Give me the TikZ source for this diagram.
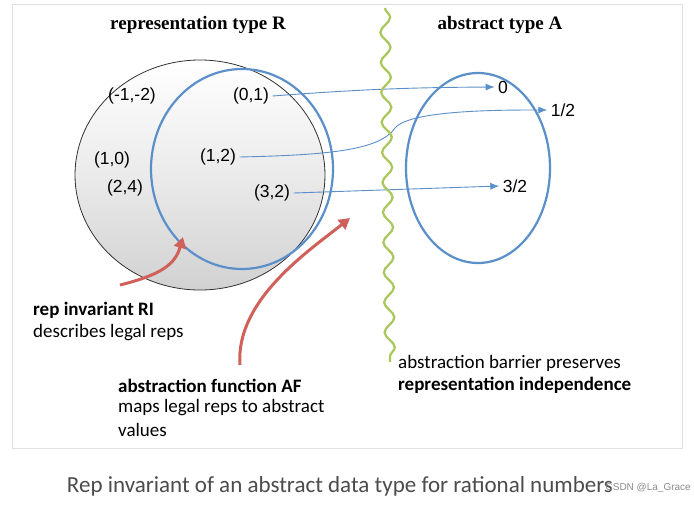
\documentclass[tikz,border=0pt]{standalone}
\usepackage{fontspec}
\setmainfont{Carlito}
\newfontfamily\arial{Liberation Sans}
\newfontfamily\tserif{Liberation Serif}
\usetikzlibrary{arrows.meta,decorations.pathmorphing}
\definecolor{cblue}{HTML}{5B8FC9}
\definecolor{cred}{HTML}{D0605A}
\definecolor{cgreen}{HTML}{A9C75A}
\begin{document}
\begin{tikzpicture}[x=1pt,y=-1pt,
  pt/.style={font=\arial\fontsize{17.5}{20}\selectfont},
  ttl/.style={font=\tserif\bfseries\fontsize{19}{22}\selectfont},
  txt/.style={font=\fontsize{19}{22}\selectfont,anchor=west,inner sep=0},
  blarr/.style={cblue,line width=0.9pt,-{Latex[length=9pt,width=7pt]}},
  redarr/.style={cred,line width=3pt,-{Triangle[length=11pt,width=12pt]}}]
\useasboundingbox (0,0) rectangle (694,504);
\fill[white] (0,0) rectangle (694,504);
\draw[black!12] (12,4) rectangle (682,448);
\node[ttl] (tR) at (198,25) {representation type R};
\node[ttl] (tA) at (500,25) {abstract type A};
\shade[top color=white,bottom color=black!18,middle color=black!8,draw=black!80,line width=0.8pt] (200,175) ellipse [x radius=125,y radius=115];
\draw[cblue,line width=2.2pt] (242,169) ellipse [x radius=91,y radius=100];
\draw[cblue,line width=2.2pt] (478,168) ellipse [x radius=72,y radius=95];
\node[pt] (a) at (132,96) {(-1,-2)};
\node[pt] (b) at (251,96) {(0,1)};
\node[pt] (c) at (112,160) {(1,0)};
\node[pt] (d) at (218,157) {(1,2)};
\node[pt] (e) at (125,188) {(2,4)};
\node[pt] (f) at (272,193) {(3,2)};
\node[pt] (z) at (503,87) {0};
\node[pt] (h) at (563,110) {1/2};
\node[pt] (t) at (515,186) {3/2};
\draw[blarr] (b.east) to[bend left=2] (z.west);
\draw[blarr] (d.east) .. controls (330,155) and (380,150) .. (395,128) .. controls (410,110) and (500,110) .. (h.west);
\draw[blarr] (f.east) -- (t.west);
\coordinate (g1) at (385,8);
\coordinate (g2) at (390,362);
\draw[cgreen,line width=2.2pt,decorate,decoration={snake,amplitude=5pt,segment length=30pt}] (g1) -- (g2);
\coordinate (r1s) at (120,285);
\coordinate (r1e) at (183,237);
\draw[redarr] (r1s) .. controls (160,275) and (175,265) .. (r1e);
\coordinate (r2s) at (240,365);
\coordinate (r2e) at (350,218);
\draw[redarr] (r2s) .. controls (235,300) and (310,250) .. (r2e);
\node[txt] (ri) at (33,310) {\bfseries rep invariant RI};
\node[txt] (ri2) at (33,333) {describes legal reps};
\node[txt] (af) at (118,386) {\bfseries abstraction function AF};
\node[txt] (af2) at (118,408) {maps legal reps to abstract};
\node[txt] (af3) at (118,430) {values};
\node[txt] (ab) at (398,363) {abstraction barrier preserves};
\node[txt] (ab2) at (398,385) {\bfseries representation independence};
\node[font=\fontsize{23}{26}\selectfont,text=black!70] (cap) at (340,486) {Rep invariant of an abstract data type for rational numbers};
\node[font=\arial\fontsize{10}{12}\selectfont,text=black!45,anchor=east,inner sep=1pt] (wm) at (692,488) {CSDN @La\_Grace};
\end{tikzpicture}
\end{document}
